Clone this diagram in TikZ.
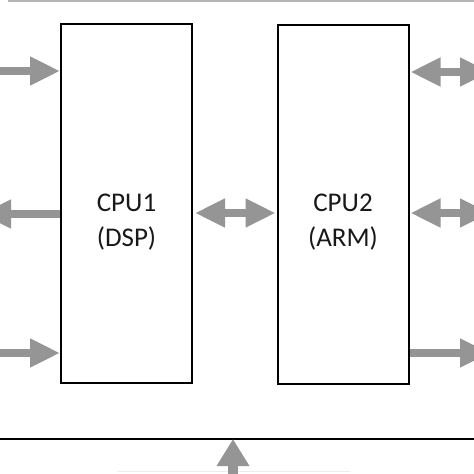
\documentclass[tikz,border=0pt]{standalone}
\usepackage{fontspec}
\setmainfont{Carlito}
\usetikzlibrary{arrows.meta}
\definecolor{arrgray}{HTML}{959595}
\definecolor{topgray}{HTML}{B4B4B4}
\tikzset{
  cpubox/.style={draw=black, line width=2pt, minimum width=131pt, minimum height=359pt, inner sep=0pt},
  cpulabel/.style={align=center, font=\fontsize{27}{35}\selectfont, text=black!90},
  arr/.style={draw=arrgray, line width=8.5pt, -{Triangle[width=27pt,length=30pt]}},
  darr/.style={draw=arrgray, line width=8.5pt, {Triangle[width=27pt,length=30pt]}-{Triangle[width=27pt,length=30pt]}},
}
\begin{document}
\begin{tikzpicture}[x=1pt,y=-1pt]
\useasboundingbox (0,0) rectangle (474,474);
\fill[white] (0,0) rectangle (474,474);
% top gray line
\draw[topgray, line width=2.2pt] (8,1) -- (474,1);
% faint lower line
\draw[black!7, line width=1pt] (117,471) -- (350,471);
% CPU boxes
\node[cpubox] (cpu1) at (126.5,203.5) {};
\node[cpubox] (cpu2) at (343,204) {};
\node[cpulabel] (t1) at (126.5,222) {CPU1\\(DSP)};
\node[cpulabel] (t2) at (343,222) {CPU2\\(ARM)};
% bus line
\coordinate (busL) at (0,439);
\coordinate (busR) at (474,439);
\draw[black, line width=2.2pt] (busL) -- (busR);
% left arrows
\coordinate (l1) at (0,71);
\coordinate (l2) at (-19,214);
\coordinate (l3) at (0,353);
\draw[arr] (l1) -- (l1 -| cpu1.west);
\draw[arr] (l2 -| cpu1.west) -- (l2);
\draw[arr] (l3) -- (l3 -| cpu1.west);
% middle double arrow
\draw[darr] ([xshift=2pt]cpu1.east |- 0,213) -- ([xshift=-1pt]cpu2.west |- 0,213);
% right arrows
\coordinate (r1) at (490,72);
\coordinate (r2) at (490,213);
\coordinate (r3) at (490,353);
\draw[darr] ([xshift=1pt]r1 -| cpu2.east) -- (r1);
\draw[darr] ([xshift=1pt]r2 -| cpu2.east) -- (r2);
\draw[arr] (r3 -| cpu2.east) -- (r3);
% bottom arrow
\coordinate (b1) at (233,490);
\draw[draw=arrgray, line width=10pt, -{Triangle[width=31pt,length=27pt]}] (b1) -- (b1 |- busL);
\end{tikzpicture}
\end{document}
